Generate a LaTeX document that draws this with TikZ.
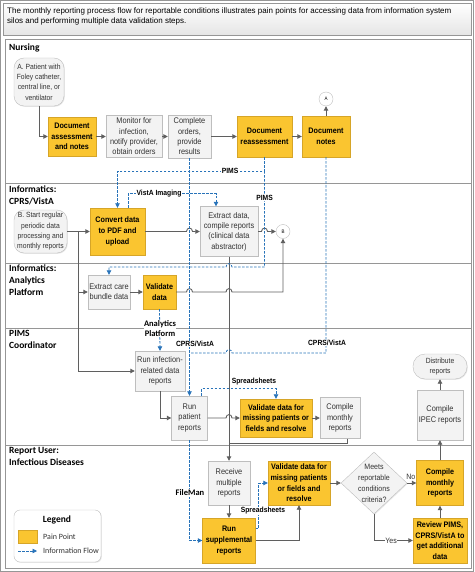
\documentclass[tikz,border=0pt]{standalone}
\usepackage{fontspec}
\setmainfont{Liberation Sans}
\newfontfamily\boxfont[FakeStretch=0.9]{Liberation Sans}
\newfontfamily\lanefont{Carlito}
\usetikzlibrary{arrows.meta,shapes.geometric,shadows,positioning}

\definecolor{painyellow}{RGB}{250,197,48}
\definecolor{painedge}{RGB}{214,165,40}
\definecolor{flowblue}{RGB}{40,115,185}
\definecolor{lanegray}{RGB}{150,150,150}
\definecolor{linegray}{RGB}{95,95,95}
\definecolor{boxgray}{RGB}{243,243,243}
\definecolor{boxedge}{RGB}{190,190,190}

\begin{document}
\begin{tikzpicture}[x=1pt,y=-1pt,
  every node/.style={inner sep=1pt},
  plainbox/.style={rectangle,draw=boxedge,fill=boxgray,align=center,text=black!80,
    font=\boxfont\fontsize{8.2}{10.3}\selectfont,
    drop shadow={shadow xshift=0.8pt,shadow yshift=-0.8pt,opacity=0.2}},
  painbox/.style={rectangle,draw=painedge,fill=painyellow,align=center,
    font=\boxfont\bfseries\fontsize{8}{10.6}\selectfont,
    drop shadow={shadow xshift=0.8pt,shadow yshift=-0.8pt,opacity=0.2}},
  terminal/.style={plainbox,rounded corners=10pt,font=\boxfont\fontsize{7.5}{10.3}\selectfont},
  decision/.style={diamond,draw=boxedge,fill=boxgray,inner sep=0pt,
    drop shadow={shadow xshift=0.8pt,shadow yshift=-0.8pt,opacity=0.2}},
  decisiontext/.style={align=center,text=black!80,font=\boxfont\fontsize{7.8}{11}\selectfont},
  joint/.style={circle,draw=boxedge,fill=white,minimum size=14pt,inner sep=0pt,
    font=\boxfont\fontsize{5}{6}\selectfont},
  flowline/.style={draw=linegray,line width=0.9pt},
  arrowline/.style={flowline,-{Triangle[length=4.5pt,width=4.5pt]}},
  infoline/.style={draw=flowblue,line width=0.8pt,dash pattern=on 2.5pt off 1.5pt},
  infoflow/.style={infoline,-{Triangle[length=4.5pt,width=4.5pt]}},
  flowlabel/.style={fill=white,inner sep=0.5pt,font=\boxfont\bfseries\fontsize{7.5}{9}\selectfont},
  branchlabel/.style={fill=white,inner sep=0.5pt,text=black!80,font=\boxfont\fontsize{7.8}{9}\selectfont},
  lanelabel/.style={anchor=north west,align=left,inner sep=0pt,
    font=\lanefont\bfseries\fontsize{9.5}{12}\selectfont}]
\useasboundingbox (0,0) rectangle (474,572);

% frame, title and lanes
\draw[lanegray] (0.5,0.5) rectangle (473.5,571.5);
\shade[top color=white,bottom color=black!10,draw=lanegray] (3,3) rectangle (471,35);
\node[anchor=north west,align=left,inner sep=0pt,font=\fontsize{8}{10}\selectfont] (title) at (7,7.5)
  {The monthly reporting process flow for reportable conditions illustrates pain points for accessing data from information system\\silos and performing multiple data validation steps.};
\draw[lanegray,line width=0.8pt] (5,39) rectangle (471,568);
\foreach \y in {183,263,328,445}
  \draw[lanegray,line width=0.8pt] (5,\y) -- (471,\y);

\node[lanelabel] (laneNursing) at (9,44) {Nursing};
\node[lanelabel] (laneCprs) at (9,186) {Informatics:\\CPRS/VistA};
\node[lanelabel] (laneAnalytics) at (9,265) {Informatics:\\Analytics\\Platform};
\node[lanelabel] (lanePims) at (9,330) {PIMS\\Coordinator};
\node[lanelabel] (laneUser) at (9,447) {Report User:\\Infectious Diseases};

% Nursing
\node[terminal,minimum width=50pt,minimum height=48pt] (patA) at (39,82) {A. Patient with\\Foley catheter,\\central line, or\\ventilator};
\node[painbox,minimum width=48pt,minimum height=39pt] (docAssess) at (72,136.5) {Document\\assessment\\and notes};
\node[plainbox,minimum width=56pt,minimum height=42pt] (monitor) at (134,136.5) {Monitor for\\infection,\\notify provider,\\obtain orders};
\node[plainbox,minimum width=43pt,minimum height=43pt] (complete) at (189.5,136.5) {Complete\\orders,\\provide\\results};
\node[painbox,minimum width=55pt,minimum height=41pt] (docReassess) at (264.5,136.5) {Document\\reassessment};
\node[painbox,minimum width=48pt,minimum height=41pt] (docNotes) at (326,136.5) {Document\\notes};
\node[joint] (jointA) at (326,99) {A};

% Informatics: CPRS/VistA
\node[terminal,minimum width=53pt,minimum height=43pt] (startB) at (40.5,231.5) {B. Start regular\\periodic data\\processing and\\monthly reports};
\node[painbox,minimum width=55pt,minimum height=47pt] (convert) at (117.5,231.5) {Convert data\\to PDF and\\upload};
\node[plainbox,minimum width=58pt,minimum height=50pt] (extract) at (229,231.5) {Extract data,\\compile reports\\(clinical data\\abstractor)};
\node[joint] (jointB) at (283,231.5) {B};

% Informatics: Analytics Platform
\node[plainbox,minimum width=42pt,minimum height=34pt] (careBundle) at (109,292) {Extract care\\bundle data};
\node[painbox,minimum width=33pt,minimum height=34pt] (valData) at (159.5,292) {Validate\\data};

% PIMS Coordinator
\node[plainbox,minimum width=50pt,minimum height=40pt] (runInfect) at (160,371) {Run infection-\\related data\\reports};
\node[plainbox,minimum width=36pt,minimum height=44pt] (runPatient) at (189.5,418) {Run\\patient\\reports};
\node[painbox,minimum width=72pt,minimum height=38pt] (checkPims) at (276,418) {Validate data for\\missing patients or\\fields and resolve};
\node[plainbox,minimum width=40pt,minimum height=41pt] (compilePims) at (340,418) {Compile\\monthly\\reports};
\node[terminal,rounded corners=12pt,minimum width=54pt,minimum height=25pt] (distribute) at (440,366.5) {Distribute\\reports};
\node[plainbox,minimum width=46pt,minimum height=50pt] (compileIpec) at (440,415) {Compile\\IPEC reports};

% Report User: Infectious Diseases
\node[plainbox,minimum width=42pt,minimum height=44pt] (receive) at (229,483) {Receive\\multiple\\reports};
\node[painbox,minimum width=53pt,minimum height=45pt] (runSupp) at (229,540.5) {Run\\supplemental\\reports};
\node[painbox,minimum width=62pt,minimum height=44pt] (checkUser) at (299,483) {Validate data for\\missing patients\\or fields and\\resolve};
\node[decision,minimum width=66pt,minimum height=62pt,
  label={[decisiontext]center:Meets\\reportable\\conditions\\criteria?}] (meets) at (374,483) {};
\node[painbox,minimum width=47pt,minimum height=45pt] (compileUser) at (440,483) {Compile\\monthly\\reports};
\node[painbox,minimum width=54pt,minimum height=45pt] (review) at (440,540.5) {Review PIMS,\\CPRS/VistA to\\get additional\\data};

% process flow
\foreach \from/\to in {docAssess/monitor,monitor/complete,complete/docReassess,docReassess/docNotes,
    docNotes/jointA,startB/convert,careBundle/valData,checkPims/compilePims,receive/runSupp,
    checkUser/meets,review/compileUser,compileUser/compileIpec,compileIpec/distribute}
  \draw[arrowline] (\from) -- (\to);

\draw[arrowline] (patA.south) |- (docAssess.west);
\draw[arrowline] (convert.east) -- (186.5,231.5) .. controls (186.5,227) and (192.5,227) .. (192.5,231.5) -- (extract.west);
\draw[arrowline] (extract.east) -- (261.5,231.5) .. controls (261.5,227) and (267.5,227) .. (267.5,231.5) -- (jointB.west);
\coordinate (branch) at (78,231.5);
\draw[arrowline] (branch) |- (careBundle.west);
\draw[arrowline] (branch) |- (runInfect.west);
\draw[arrowline] (valData.east) -- (186.5,292) .. controls (186.5,287.5) and (192.5,287.5) .. (192.5,292)
  -- (226,292) .. controls (226,287.5) and (232,287.5) .. (232,292) -| (jointB.south);
\draw[arrowline] (extract.south) -- (receive.north);
\draw[arrowline] (runInfect.south) |- (runPatient.west);
\draw[arrowline] (runPatient.east) -- (226,418) .. controls (226,413.5) and (232,413.5) .. (232,418) -- (checkPims.west);
\coordinate (merge) at (229,443);
\draw[flowline] ([xshift=7pt]compilePims.south) |- (merge);
\draw[arrowline] (runSupp.east) -| (checkUser.south);
\draw[arrowline] (meets) -- node[pos=0.4,above=3pt,inner sep=0pt,text=black!80,font=\boxfont\fontsize{7.8}{9}\selectfont] (lblNo) {No} (compileUser);
\draw[arrowline] (meets.south) |- node[pos=0.72,branchlabel] (lblYes) {Yes} (review.west);

% information flow
\draw[infoflow] (docReassess.south) -- (264.5,171) -| (convert.north);
\draw[infoflow] (264.5,171) -- (264.5,267) -- (232,267) .. controls (232,262.5) and (226,262.5) .. (226,267) -| (careBundle.north);
\draw[infoflow] ([xshift=10.5pt]convert.north) -- ++(0,-14) -| ([xshift=-13pt]extract.north);
\draw[infoflow] (complete.south) -- (runPatient.north);
\draw[infoline] (docNotes.south) -- (326,353) -- (232,353) .. controls (232,348.5) and (226,348.5) .. (226,353) -- (189.5,353);
\draw[infoflow] (valData.south) -- (runInfect.north);
\draw[infoflow] ([xshift=12pt]runPatient.north) -- ++(0,-7) -| (checkPims.north);
\draw[infoflow] (runPatient.south) |- (runSupp.west);
\draw[infoflow] ([yshift=12pt]runSupp.east) -- ++(3,0) |- (checkUser.west);

\node[flowlabel] (lblPims) at (230,171) {PIMS};
\node[flowlabel] (lblPimsB) at (264.5,198) {PIMS};
\node[flowlabel] (lblImaging) at (159,194) {VistA Imaging};
\node[flowlabel,align=center,font=\lanefont\bfseries\fontsize{8.5}{10.5}\selectfont] (lblAnalytics) at (160,328.5) {Analytics\\Platform};
\node[flowlabel] (lblCprsA) at (195,344) {CPRS/VistA};
\node[flowlabel] (lblCprsB) at (327,343) {CPRS/VistA};
\node[flowlabel,fill=none] (lblSheetsA) at (254,382) {Spreadsheets};
\node[flowlabel,font=\lanefont\bfseries\fontsize{8.5}{10}\selectfont] (lblFileman) at (190,493) {FileMan};
\node[flowlabel] (lblSheetsB) at (263,511) {Spreadsheets};

% legend
\draw[boxedge,fill=white,rounded corners=6pt,drop shadow={shadow xshift=0.8pt,shadow yshift=-0.8pt,opacity=0.2}] (14,510) rectangle (101,562);
\node[font=\lanefont\bfseries\fontsize{9.5}{11}\selectfont] (legendTitle) at (57,520) {Legend};
\draw[painedge,fill=painyellow] (18,530) rectangle (37,543);
\node[anchor=west,text=black!80,font=\lanefont\fontsize{8}{10}\selectfont] (legendPain) at (42,537) {Pain Point};
\draw[infoflow] (18,551) -- (37,551);
\node[anchor=west,text=black!80,font=\lanefont\fontsize{8}{10}\selectfont] (legendFlow) at (42,551) {Information Flow};
\end{tikzpicture}
\end{document}
